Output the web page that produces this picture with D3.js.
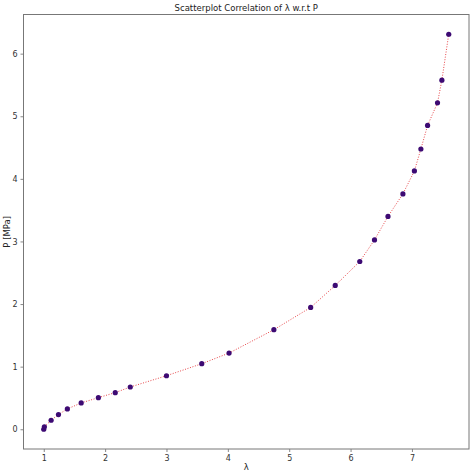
<!DOCTYPE html>
<html>
<head>
<meta charset="utf-8">
<script src="https://cdn.jsdelivr.net/npm/d3@7"></script>
<style>
  body { margin: 0; background: #fff; }
  text { font-family: "DejaVu Sans", sans-serif; }
</style>
</head>
<body>
<svg id="svg" width="474" height="475"></svg>
<script>
// values
const lambda = [1.0, 1.01, 1.12, 1.24, 1.385, 1.61, 1.89, 2.165, 2.41, 3.0, 3.575, 4.02,
  4.75, 5.35, 5.75, 6.15, 6.39, 6.61, 6.853, 7.04, 7.146, 7.255, 7.417, 7.488, 7.60];
const pressure = [0.0, 0.04, 0.144, 0.235, 0.325, 0.42, 0.505, 0.585, 0.675, 0.855, 1.047, 1.217,
  1.59, 1.946, 2.297, 2.68, 3.025, 3.40, 3.76, 4.126, 4.477, 4.853, 5.215, 5.577, 6.31];
const xTicks = [1, 2, 3, 4, 5, 6, 7];
const yTicks = [0, 1, 2, 3, 4, 5, 6];

const points = lambda.map((l, i) => ({ x: l, y: pressure[i] }));

const margin = { top: 14.5, right: 5, bottom: 26, left: 23.5 };
const width = 474, height = 475;

// matplotlib style 5% padding around the data
const xExt = d3.extent(lambda), yExt = d3.extent(pressure);
const xPad = (xExt[1] - xExt[0]) * 0.05, yPad = (yExt[1] - yExt[0]) * 0.05;

const x = d3.scaleLinear()
  .domain([xExt[0] - xPad, xExt[1] + xPad])
  .range([margin.left, width - margin.right]);
const y = d3.scaleLinear()
  .domain([yExt[0] - yPad, yExt[1] + yPad])
  .range([height - margin.bottom, margin.top]);

const svg = d3.select("#svg");

// axes
const xAxis = svg.append("g")
  .attr("transform", `translate(0,${height - margin.bottom})`)
  .call(d3.axisBottom(x).tickValues(xTicks).tickSize(3).tickPadding(3).tickFormat(d3.format("d")));
const yAxis = svg.append("g")
  .attr("transform", `translate(${margin.left},0)`)
  .call(d3.axisLeft(y).tickValues(yTicks).tickSize(3).tickPadding(3).tickFormat(d3.format("d")));

for (const ax of [xAxis, yAxis]) {
  ax.select(".domain").remove();
  ax.selectAll("line").attr("stroke", "#555").attr("stroke-width", 0.7);
  ax.selectAll("text").attr("font-size", 8).attr("fill", "#333")
    .attr("font-family", "DejaVu Sans, sans-serif");
}

// frame
svg.append("rect")
  .attr("x", margin.left)
  .attr("y", margin.top)
  .attr("width", width - margin.left - margin.right)
  .attr("height", height - margin.top - margin.bottom)
  .attr("fill", "none")
  .attr("stroke", "#777")
  .attr("stroke-width", 1);

// dotted connecting line
svg.append("path")
  .datum(points)
  .attr("d", d3.line().x(d => x(d.x)).y(d => y(d.y)))
  .attr("fill", "none")
  .attr("stroke", "#e8474a")
  .attr("stroke-width", 1)
  .attr("stroke-dasharray", "1,1.6");

// points
svg.append("g")
  .selectAll("circle")
  .data(points)
  .join("circle")
  .attr("cx", d => x(d.x))
  .attr("cy", d => y(d.y))
  .attr("r", 2.6)
  .attr("fill", "#3d0a73");

// labels
svg.append("text")
  .attr("x", (margin.left + width - margin.right) / 2)
  .attr("y", 10.5)
  .attr("text-anchor", "middle")
  .attr("font-size", 8.5)
  .attr("fill", "#222")
  .text("Scatterplot Correlation of λ w.r.t P");

svg.append("text")
  .attr("x", (margin.left + width - margin.right) / 2)
  .attr("y", 470)
  .attr("text-anchor", "middle")
  .attr("font-size", 8.5)
  .attr("fill", "#222")
  .text("λ");

svg.append("text")
  .attr("transform", `translate(10,${(margin.top + height - margin.bottom) / 2}) rotate(-90)`)
  .attr("text-anchor", "middle")
  .attr("font-size", 8.5)
  .attr("fill", "#222")
  .text("P [MPa]");
</script>
</body>
</html>
